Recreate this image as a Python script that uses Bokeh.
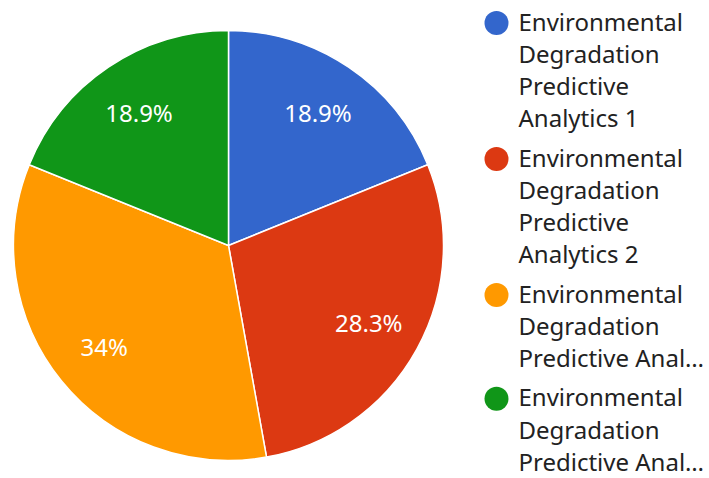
import math
from bokeh.plotting import figure
from bokeh.models import Range1d, ColumnDataSource
from bokeh.core.properties import value
from bokeh.embed import file_html
from bokeh.resources import INLINE

# ---- data ----
categories = [
    "Environmental Degradation Predictive Analytics 1",
    "Environmental Degradation Predictive Analytics 2",
    "Environmental Degradation Predictive Analytics 3",
    "Environmental Degradation Predictive Analytics 4",
]
values = [20, 30, 36, 20]
colors = ["#3366cc", "#dc3912", "#ff9900", "#109618"]
legend_lines = [
    ["Environmental", "Degradation", "Predictive", "Analytics 1"],
    ["Environmental", "Degradation", "Predictive", "Analytics 2"],
    ["Environmental", "Degradation", "Predictive Anal\u2026"],
    ["Environmental", "Degradation", "Predictive Anal\u2026"],
]

# ---- layout ----
W, H = 709, 478
FONT = "Noto Sans"
FS = "24px"
cx, cy_down, R = 228, 245, 215

def Y(y_down):
    return H - y_down

p = figure(width=W, height=H, output_backend="svg", toolbar_location=None,
           x_range=Range1d(0, W), y_range=Range1d(0, H), min_border=0)
p.axis.visible = False
p.grid.visible = False
p.outline_line_color = None
p.background_fill_color = "white"
p.border_fill_color = "white"

total = float(sum(values))
starts, ends, lx, ly, labels = [], [], [], [], []
cum = 0.0
for v in values:
    f0 = cum / total
    cum += v
    f1 = cum / total
    starts.append(math.pi / 2 - 2 * math.pi * f0)
    ends.append(math.pi / 2 - 2 * math.pi * f1)
    mid = math.pi / 2 - 2 * math.pi * (f0 + f1) / 2
    lx.append(cx + 0.745 * R * math.cos(mid))
    ly.append(Y(cy_down) + 0.745 * R * math.sin(mid))
    pct = round(100 * v / total, 1)
    labels.append(("%g" % pct) + "%")

src = ColumnDataSource(dict(start=starts, end=ends, color=colors,
                            x=[cx] * len(values), y=[Y(cy_down)] * len(values)))
p.wedge(x="x", y="y", radius=R, start_angle="start", end_angle="end",
        direction="clock", fill_color="color", line_color="white",
        line_width=1.5, source=src)

p.text(x=lx, y=ly, text=labels, text_color="white", text_font=value(FONT),
       text_font_size=FS, text_align="center", text_baseline="middle")

# legend
line_h, gap = 32.25, 7.0
y_down = 20.5
mx, my, tx, ty, tt = [], [], [], [], []
for i, lines in enumerate(legend_lines):
    mx.append(496)
    my.append(Y(y_down + 2))
    for ln in lines:
        tx.append(518)
        ty.append(Y(y_down))
        tt.append(ln)
        y_down += line_h
    y_down += gap
p.scatter(x=mx, y=my, size=24, marker="circle", fill_color=colors, line_color=None)
p.text(x=tx, y=ty, text=tt, text_color="#222222", text_font=value(FONT),
       text_font_size=FS, text_align="left", text_baseline="middle")

open("out.html", "w").write(file_html(p, INLINE))
